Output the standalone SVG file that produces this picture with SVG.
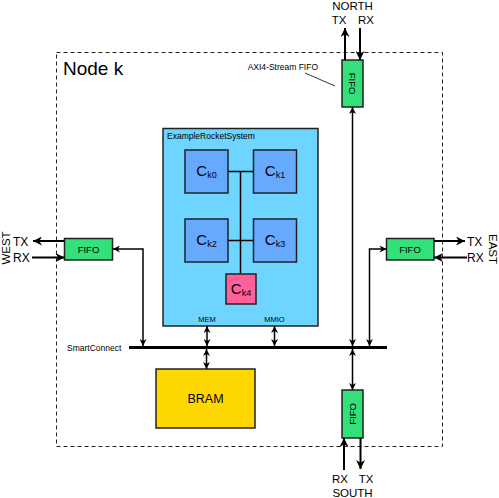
<svg xmlns="http://www.w3.org/2000/svg" width="499" height="498" viewBox="0 0 499 498">
<defs>
<marker id="ah" viewBox="0 0 10 10" refX="10" refY="5" markerWidth="8" markerHeight="7" orient="auto-start-reverse" markerUnits="userSpaceOnUse">
<path d="M0,0 L10,5 L0,10 L3,5 Z" fill="#000"/>
</marker>
<marker id="big" viewBox="0 0 10 10" refX="10" refY="5" markerWidth="11" markerHeight="9" orient="auto-start-reverse" markerUnits="userSpaceOnUse">
<path d="M0,0 L10,5 L0,10 L3,5 Z" fill="#000"/>
</marker>
<style>
text{font-family:"Liberation Sans",Arial,sans-serif;fill:#000}
.fifo{fill:#33E07A;stroke:#222;stroke-width:1.5}
.core{fill:#66AAFF;stroke:#222;stroke-width:1.5}
.ln{stroke:#000;stroke-width:1.5;fill:none}
.ext{stroke:#000;stroke-width:2;fill:none}
.lbl{font-size:11.5px;text-anchor:middle}
.ft{font-size:9.5px;text-anchor:middle}
.cl{font-size:15px;text-anchor:middle}
</style>
</defs>
<rect x="56.5" y="52.5" width="386" height="394" fill="none" stroke="#222" stroke-width="1" stroke-dasharray="4,3"/>
<text x="63" y="75" font-size="19">Node k</text>

<g id="rocket">
<rect x="163" y="128.5" width="155" height="197.5" fill="#6DD5FF" stroke="#222" stroke-width="1.5"/>
<text x="167" y="139" font-size="8.5">ExampleRocketSystem</text>
<text x="207" y="322" font-size="7.5" text-anchor="middle">MEM</text>
<text x="274.5" y="322" font-size="7.5" text-anchor="middle">MMIO</text>
</g>
<g id="cores-links">
<path class="ln" d="M228,171.5 H253 M228,240.5 H253 M240.5,171.5 V274" stroke-width="2"/>
</g>
<g id="ck0"><rect class="core" x="185" y="150" width="43" height="43"/><text x="206.5" y="176" class="cl">C<tspan font-size="9" dy="2">k0</tspan></text></g>
<g id="ck1"><rect class="core" x="253.5" y="150" width="43" height="43"/><text x="275" y="176" class="cl">C<tspan font-size="9" dy="2">k1</tspan></text></g>
<g id="ck2"><rect class="core" x="185" y="219" width="43" height="43"/><text x="206.5" y="245" class="cl">C<tspan font-size="9" dy="2">k2</tspan></text></g>
<g id="ck3"><rect class="core" x="253.5" y="219" width="43" height="43"/><text x="275" y="245" class="cl">C<tspan font-size="9" dy="2">k3</tspan></text></g>
<g id="ck4"><rect x="226" y="274" width="30" height="30" fill="#FF5F9A" stroke="#222" stroke-width="1.5"/><text x="241" y="294" class="cl">C<tspan font-size="9" dy="2">k4</tspan></text></g>

<g id="bram"><rect x="156" y="369" width="99" height="59" fill="#FFD700" stroke="#222" stroke-width="1.5"/><text x="205.5" y="403" font-size="12.5" text-anchor="middle">BRAM</text></g>

<g id="smartconnect">
<line x1="129" y1="347.5" x2="387" y2="347.5" stroke="#000" stroke-width="3"/>
<text x="67" y="351" font-size="8.5">SmartConnect</text>
</g>

<g id="fifo-north"><rect class="fifo" x="342" y="60" width="21" height="47"/><text transform="translate(349,83.5) rotate(90)" class="ft">FIFO</text></g>
<g id="fifo-south"><rect class="fifo" x="342" y="390" width="21" height="48"/><text transform="translate(356,414) rotate(-90)" class="ft">FIFO</text></g>
<g id="fifo-west"><rect class="fifo" x="64.5" y="238.5" width="48" height="21.5"/><text x="88.5" y="252.5" class="ft">FIFO</text></g>
<g id="fifo-east"><rect class="fifo" x="386.5" y="238.5" width="47.5" height="21.5"/><text x="410" y="252.5" class="ft">FIFO</text></g>

<g id="connectors">
<line class="ext" x1="345" y1="60" x2="345" y2="28" marker-end="url(#big)"/>
<line class="ext" x1="360" y1="28" x2="360" y2="60" marker-end="url(#big)"/>
<line class="ext" x1="344" y1="470" x2="344" y2="438" marker-end="url(#big)"/>
<line class="ext" x1="360.5" y1="438" x2="360.5" y2="469" marker-end="url(#big)"/>
<line class="ext" x1="64.5" y1="241" x2="33" y2="241" marker-end="url(#big)"/>
<line class="ext" x1="32" y1="257.5" x2="64.5" y2="257.5" marker-end="url(#big)"/>
<line class="ext" x1="434" y1="241" x2="465" y2="241" marker-end="url(#big)"/>
<line class="ext" x1="467" y1="257.5" x2="434" y2="257.5" marker-end="url(#big)"/>
<line class="ln" x1="352.5" y1="107" x2="352.5" y2="346" marker-start="url(#ah)" marker-end="url(#ah)"/>
<line class="ln" x1="352.5" y1="349" x2="352.5" y2="390" marker-start="url(#ah)" marker-end="url(#ah)"/>
<path class="ln" d="M113,249 H143 V346" marker-start="url(#ah)" marker-end="url(#ah)"/>
<path class="ln" d="M386.5,249 H369.5 V346" marker-start="url(#ah)" marker-end="url(#ah)"/>
<line class="ln" x1="207" y1="326" x2="207" y2="346" marker-start="url(#ah)" marker-end="url(#ah)"/>
<line class="ln" x1="274.5" y1="326" x2="274.5" y2="346" marker-start="url(#ah)" marker-end="url(#ah)"/>
<line class="ln" x1="206.5" y1="349" x2="206.5" y2="369" marker-start="url(#ah)" marker-end="url(#ah)"/>
<line x1="305" y1="73" x2="335" y2="86" stroke="#000" stroke-width="0.8"/>
</g>

<g id="labels">
<text x="352.5" y="10" class="lbl">NORTH</text>
<text x="339" y="23.5" class="lbl">TX</text>
<text x="366" y="23.5" class="lbl">RX</text>
<text x="318" y="70" font-size="8.5" text-anchor="end">AXI4-Stream FIFO</text>
<text x="340" y="483" class="lbl">RX</text>
<text x="366" y="483" class="lbl">TX</text>
<text x="352.5" y="497" class="lbl">SOUTH</text>
<text x="13" y="246" font-size="12">TX</text>
<text x="13" y="262" font-size="12">RX</text>
<text transform="translate(10,248) rotate(-90)" class="lbl">WEST</text>
<text x="467" y="246" font-size="12">TX</text>
<text x="467" y="262" font-size="12">RX</text>
<text transform="translate(489,249) rotate(90)" class="lbl">EAST</text>
</g>
</svg>
